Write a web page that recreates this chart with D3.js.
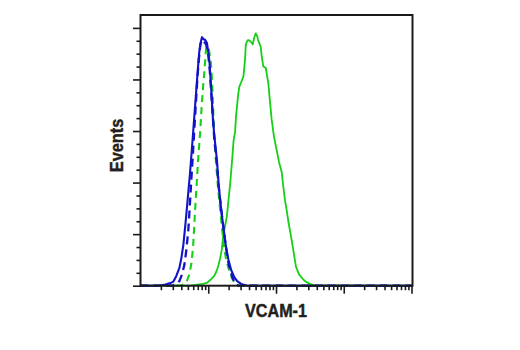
<!DOCTYPE html>
<html>
<head>
<meta charset="utf-8">
<script src="https://cdn.jsdelivr.net/npm/d3@7"></script>
<style>
  html, body { margin: 0; padding: 0; background: #fff; }
  svg { display: block; }
  text { font-family: "Liberation Sans", Arial, sans-serif; font-weight: bold; fill: #231f20; stroke: #231f20; stroke-width: 0.45; }
</style>
</head>
<body>
<svg id="chart" width="520" height="350"></svg>
<script>
// ---- data (intensity on log axis, event counts) ----
const blueSolidX = [1, 1.84, 2.33, 2.76, 3.06, 3.38, 3.75, 4.01, 4.29, 4.59, 4.96, 5.35, 5.72, 6.02, 6.33, 6.66, 7.01, 7.37, 7.76, 8.08, 8.44, 9.03, 9.57, 10.0, 10.45, 11.07, 11.56, 12.25, 13.42, 14.27, 15.0, 16.07, 17.2, 18.4, 19.9, 21.8, 24.1, 26.7, 30.6, 37.5, 10000];
const blueSolidY = [0, 0, 0.5, 1.0, 1.6, 3.8, 6.9, 10.7, 15.8, 23.5, 33.2, 42.9, 52.6, 60.4, 68.2, 75.9, 83.7, 90.7, 94.5, 96.4, 95.7, 95.3, 94.1, 90.7, 86.4, 75.9, 67.0, 58.5, 48.8, 39.1, 33.2, 26.3, 20.4, 14.6, 10.0, 6.1, 3.4, 1.8, 0.7, 0, 0];

const blueDashX = [1, 2.96, 3.38, 3.75, 4.08, 4.44, 4.75, 5.08, 5.35, 5.62, 5.92, 6.22, 6.55, 6.89, 7.25, 7.63, 8.02, 8.59, 9.35, 10.0, 10.52, 11.07, 11.64, 12.25, 13.34, 14.27, 15.27, 16.34, 17.49, 18.71, 20.0, 21.4, 22.9, 24.9, 27.6, 10000];
const blueDashY = [0, 0, 0.7, 1.8, 4.2, 8.0, 13.8, 21.6, 31.3, 41.0, 50.7, 60.4, 70.1, 79.8, 87.6, 93.4, 95.3, 94.9, 93.4, 89.5, 83.7, 75.1, 66.2, 57.3, 48.0, 38.3, 31.3, 24.7, 18.5, 13.1, 8.4, 5.3, 3.0, 1.0, 0, 0];

const greenDashX = [1, 3.88, 4.36, 4.83, 5.26, 5.62, 5.92, 6.12, 6.33, 6.66, 7.01, 7.25, 7.63, 8.02, 8.44, 8.73, 9.25, 9.66, 10.17, 10.88, 11.25, 11.64, 11.96, 12.47, 13.12, 14.03, 15.0, 16.07, 17.2, 18.4, 19.9, 22.3, 24.1, 26.7, 29.6, 10000];
const greenDashY = [0, 0, 0.5, 1.8, 4.5, 8.4, 13.8, 19.7, 27.4, 37.1, 46.8, 52.6, 60.4, 70.1, 77.9, 82.5, 91.4, 93.0, 92.2, 86.8, 81.7, 74.0, 64.3, 54.6, 46.8, 37.1, 29.4, 21.6, 14.6, 10.0, 6.9, 3.0, 1.4, 0.3, 0, 0];

const greenSolidX = [1, 5.44, 6.44, 8.44, 9.66, 10.7, 12.25, 13.3, 14.2, 15.0, 15.8, 16.8, 17.8, 18.8, 19.9, 21.1, 22.2, 23.1, 23.7, 24.9, 25.8, 26.4, 27.6, 28.8, 31.1, 33.0, 33.8, 35.0, 35.8, 37.1, 38.7, 40.5, 42.9, 45.4, 47.5, 50.3, 52.6, 54.3, 56.8, 59.6, 61.2, 65.0, 70.6, 77.1, 81.6, 86.4, 93.5, 102.4, 110.7, 121.3, 128.9, 135.6, 143.6, 152.7, 163.4, 174.9, 187.2, 196.8, 217.8, 241.1, 266.9, 305.6, 353.7, 414.7, 10000];
const greenSolidY = [0, 0, 0.3, 0.7, 1.2, 2.2, 3.8, 5.7, 8.0, 10.7, 13.8, 20.4, 23.5, 26.8, 33.2, 39.8, 46.8, 52.6, 56.5, 59.7, 66.2, 68.8, 74.0, 77.2, 79.4, 81.1, 83.7, 88.2, 93.4, 94.6, 95.3, 95.1, 94.5, 93.6, 96.1, 97.9, 96.9, 95.3, 94.1, 92.6, 89.5, 85.0, 84.5, 78.5, 71.3, 64.3, 57.7, 52.6, 48.0, 44.1, 37.9, 33.2, 29.4, 24.7, 20.4, 15.8, 11.1, 7.4, 4.5, 3.0, 1.8, 0.9, 0.2, 0, 0];

const xDomain = [1, 10000];
const yDomain = [0, 105];
const yMajorTicks = [0, 20, 40, 60, 80, 100];
const yMinorStep = 5;
const xLabel = "VCAM-1";
const yLabel = "Events";

// ---- layout ----
const mLeft = 140.5, mRight = 411.5, mTop = 15, mBottom = 285.7;
const svg = d3.select("#chart");

const x = d3.scaleLog().domain(xDomain).range([mLeft, mRight]);
const y = d3.scaleLinear().domain(yDomain).range([mBottom, mTop]);

const series = [
  { xs: greenSolidX, ys: greenSolidY, color: "#16d016", width: 1.8, dash: null },
  { xs: greenDashX, ys: greenDashY, color: "#16d016", width: 2.1, dash: "7,5" },
  { xs: blueDashX, ys: blueDashY, color: "#1212c8", width: 2.3, dash: "8,5" },
  { xs: blueSolidX, ys: blueSolidY, color: "#1212c8", width: 2.1, dash: null }
];

const line = d3.line().x(d => x(d[0])).y(d => y(d[1])).curve(d3.curveLinear);

series.forEach(s => {
  const pts = s.xs.map((v, i) => [v, s.ys[i]]);
  svg.append("path")
    .attr("d", line(pts))
    .attr("fill", "none")
    .attr("stroke", s.color)
    .attr("stroke-width", s.width)
    .attr("stroke-linejoin", "round")
    .attr("stroke-dasharray", s.dash);
});

// frame
svg.append("rect")
  .attr("x", mLeft).attr("y", mTop)
  .attr("width", mRight - mLeft + 1).attr("height", mBottom - mTop)
  .attr("fill", "none").attr("stroke", "#1a1a1a").attr("stroke-width", 2);

// y axis ticks
const yMinor = d3.range(yDomain[0], 101, yMinorStep).filter(v => !yMajorTicks.includes(v));
const yAxisMinor = d3.axisLeft(y).tickValues(yMinor).tickSize(4).tickFormat("");
const yAxisMajor = d3.axisLeft(y).tickValues(yMajorTicks).tickSize(7.5).tickFormat("");
[yAxisMinor, yAxisMajor].forEach(ax => {
  const g = svg.append("g").attr("transform", `translate(${mLeft},0)`).call(ax);
  g.select(".domain").remove();
  g.selectAll("line").attr("stroke", "#1a1a1a").attr("stroke-width", 1.6);
});

// x axis ticks
const xMajor = [1, 10, 100, 1000, 10000];
const xMinor = x.ticks().filter(v => !xMajor.includes(v));
const xAxisMinor = d3.axisBottom(x).tickValues(xMinor).tickSize(4.5).tickFormat("");
const xAxisMajor = d3.axisBottom(x).tickValues(xMajor.slice(1)).tickSize(8).tickFormat("");
[xAxisMinor, xAxisMajor].forEach(ax => {
  const g = svg.append("g").attr("transform", `translate(0,${mBottom})`).call(ax);
  g.select(".domain").remove();
  g.selectAll("line").attr("stroke", "#1a1a1a").attr("stroke-width", 1.6);
});

// labels
svg.append("text")
  .attr("x", 276).attr("y", 316.5)
  .attr("text-anchor", "middle")
  .attr("font-size", 17.6)
  .attr("textLength", 62).attr("lengthAdjust", "spacingAndGlyphs")
  .text(xLabel);

svg.append("text")
  .attr("transform", "translate(123.3,145.5) rotate(-90)")
  .attr("text-anchor", "middle")
  .attr("font-size", 17.6)
  .attr("textLength", 53.5).attr("lengthAdjust", "spacingAndGlyphs")
  .text(yLabel);
</script>
</body>
</html>
